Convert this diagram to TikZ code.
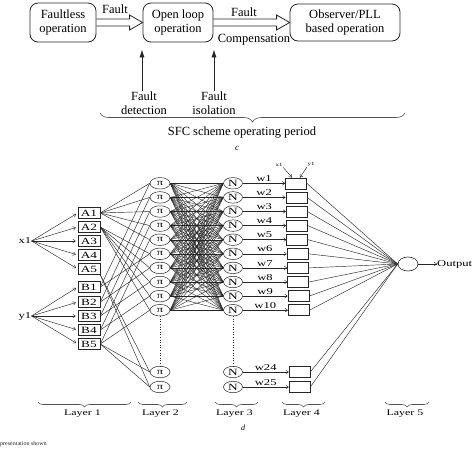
\documentclass[tikz,border=0pt]{standalone}
\usepackage{fontspec}
\setmainfont{Liberation Serif}
\usetikzlibrary{calc,arrows.meta,decorations.pathreplacing,shapes.geometric}
\newcommand{\stx}[1]{\scalebox{1.4}[1]{#1}}
\colorlet{ink}{black!85}
\begin{document}
\begin{tikzpicture}[x=1pt,y=-1pt,
  topbox/.style={draw=ink, rounded corners=8pt, line width=0.8pt, align=center,
    font=\fontsize{12.5}{13.5}\selectfont, inner sep=0pt},
  toptext/.style={font=\fontsize{12.5}{13.5}\selectfont, inner sep=0pt, align=center},
  hollow/.style={draw=ink, line width=0.8pt, line join=miter},
  uparr/.style={draw=ink, line width=0.8pt, -{Latex[length=8pt,width=5pt]}},
  brc/.style={draw=ink!80, line width=0.6pt, decorate},
  lbox/.style={draw=ink, line width=0.6pt, minimum width=22pt, minimum height=11pt, inner sep=0pt,
    font=\fontsize{9.5}{10}\selectfont},
  pnode/.style={draw=ink, ellipse, line width=0.5pt, minimum width=20pt, minimum height=11.5pt, inner sep=0pt,
    font=\fontsize{9}{10}\selectfont},
  nnode/.style={draw=ink, ellipse, line width=0.5pt, minimum width=19pt, minimum height=11.5pt, inner sep=0pt,
    font=\fontsize{9.5}{10}\selectfont},
  wbox/.style={draw=ink, line width=0.6pt, minimum width=21pt, minimum height=11pt, inner sep=0pt},
  small/.style={font=\fontsize{9}{10}\selectfont, inner sep=0pt},
  lyr/.style={font=\fontsize{8.5}{9}\selectfont, inner sep=0pt},
  ln/.style={draw=ink, line width=0.45pt},
  sarr/.style={draw=ink, line width=0.45pt, -{To[length=3pt,width=4pt]}, shorten >=2pt}
]
\useasboundingbox (0,0) rectangle (474,448);

% ---------------- part c ----------------
\node[topbox, minimum width=66pt, minimum height=39pt] (F) at (63,22.5) {Faultless\\operation};
\node[topbox, minimum width=70pt, minimum height=39pt] (O) at (178,22.5) {Open loop\\operation};
\node[topbox, minimum width=110pt, minimum height=37pt] (S) at (345,22.5) {Observer/PLL\\based operation};

\draw[hollow] ($(F.east)+(0,-3.5)$) -- ($(O.west)+(-13,-3.5)$) -- ($(O.west)+(-13,-7.5)$)
  -- (O.west) -- ($(O.west)+(-13,7.5)$) -- ($(O.west)+(-13,3.5)$) -- ($(F.east)+(0,3.5)$);
\draw[hollow] ($(O.east)+(0,-3.5)$) -- ($(S.west |- O.east)+(-13,-3.5)$) -- ($(S.west |- O.east)+(-13,-7.5)$)
  -- (S.west |- O.east) -- ($(S.west |- O.east)+(-13,7.5)$) -- ($(S.west |- O.east)+(-13,3.5)$) -- ($(O.east)+(0,3.5)$);

\node[toptext] (f1) at (115,9) {Fault};
\node[toptext] (f2) at (244,12) {Fault};
\node[toptext] (comp) at (254,40) {Compensation};
\node[toptext] (det) at (144,103) {Fault\\detection};
\node[toptext] (iso) at (214,103) {Fault\\isolation};
\draw[uparr] ($(det.north)+(-2,-1)$) -- ($(det.north |- O.south)+(-2,7)$);
\draw[uparr] ($(iso.north)+(0,-1)$) -- ($(iso.north |- O.south)+(0,7)$);

\coordinate (bra) at (100,113);
\coordinate (brb) at (405,113);
\draw[brc, decoration={brace, mirror, amplitude=9pt}] (bra) -- (brb);
\node[toptext] (sfc) at (242,133) {SFC scheme operating period};
\node[font=\fontsize{9}{10}\selectfont\itshape, inner sep=0pt] (cc) at (237,148) {c};

% ---------------- part d ----------------
\node[small] (x1) at (25,241) {\stx{x1}};
\node[small] (y1) at (25,316) {\stx{y1}};

\foreach \i/\yy in {1/213,2/227,3/241,4/255,5/269}
  \node[lbox] (A\i) at (89,\yy) {\stx{A\i}};
\foreach \i/\yy in {1/287,2/302,3/316,4/330,5/344}
  \node[lbox] (B\i) at (89,\yy) {\stx{B\i}};

\foreach \k in {1,...,10} {
  \node[pnode] (P\k) at (160,{183.3+14.1*(\k-1)}) {\stx{π}};
  \node[nnode] (N\k) at (233,{183.3+14.1*(\k-1)}) {\stx{N}};
  \node[wbox] (L\k) at ({296+0.3*(\k-1)},{183.3+14.1*(\k-1)}) {};
}
\foreach \k/\yy in {24/372,25/387} {
  \node[pnode] (P\k) at (160,\yy) {\stx{π}};
  \node[nnode] (N\k) at (233,\yy) {\stx{N}};
  \node[wbox] (L\k) at (299.5,\yy) {};
}

\node[draw=ink, ellipse, line width=0.6pt, minimum width=20pt, minimum height=14pt, inner sep=0pt] (out) at (408,264) {};
\node[small, anchor=west] (outt) at (437,264) {\stx{Output}};
\draw[sarr, shorten >=0pt] (out.east) -- (outt.west);

% inputs to layer 1
\foreach \i in {1,...,5} {
  \draw[sarr] (x1.east) -- (A\i.west);
  \draw[sarr] (y1.east) -- (B\i.west);
}

% layer 1 to layer 2
\foreach \k in {1,...,5} \draw[ln] (A1.east) -- (P\k.west);
\foreach \k in {6,...,10} \draw[ln] (A2.east) -- (P\k.west);
\draw[ln] (A5.south east) -- (P24.west);
\draw[ln] (A5.south east) -- (P25.west);
\foreach \j in {1,...,5} {
  \pgfmathtruncatemacro{\jj}{\j+5}
  \draw[ln] (B\j.east) -- (P\j.west);
  \draw[ln] (B\j.east) -- (P\jj.west);
}
\draw[ln] (B5.east) -- (P24.west);
\draw[ln] (B5.east) -- (P25.west);

% layer 2 to layer 3 (full mesh)
\foreach \i in {1,...,10}
  \foreach \j in {1,...,10}
    \draw[ln, line width=0.4pt] (P\i.east) -- (N\j.west);

\draw[ink, line width=0.6pt, dotted] (P10.south) -- (P24.north);
\draw[ink, line width=0.6pt, dotted] (N10.south) -- (N24.north);

% layer 3 to layer 4
\foreach \k in {1,...,10,24,25}
  \draw[sarr, shorten >=0pt] (N\k.east) -- node[small, above=1.5pt] {\stx{w\k}} (L\k.west);

% layer 4 to output
\foreach \k in {1,...,10,24,25}
  \draw[ln] (L\k.east) -- (out.west);

% x1, y1 into first box
\node[font=\fontsize{5}{6}\selectfont, inner sep=0pt] (sx) at (279,165) {\stx{x1}};
\node[font=\fontsize{5}{6}\selectfont, inner sep=0pt] (sy) at (311,164) {\stx{y1}};
\draw[sarr, shorten >=0pt, shorten <=1pt] (sx.south east) -- ($(L1.north)+(-4,0)$);
\draw[sarr, shorten >=0pt, shorten <=1pt] (sy.south west) -- ($(L1.north)+(4,0)$);

% layer braces
\foreach \n/\a/\b in {1/38/131,2/138/187,3/215/258,4/282/325,5/385/429} {
  \coordinate (la\n) at (\a,402);
  \coordinate (lb\n) at (\b,402);
  \draw[brc, decoration={brace, mirror, amplitude=5pt}] (la\n) -- (lb\n);
  \node[lyr] (lt\n) at ({(\a+\b)/2-2},414) {\stx{Layer \n}};
}
\node[font=\fontsize{8}{9}\selectfont\itshape, inner sep=0pt] (dd) at (243,428) {d};
\node[font=\fontsize{6}{7}\selectfont, inner sep=0pt, anchor=north west, text=ink] (cut) at (0,441) {presentation shown};
\end{tikzpicture}
\end{document}
